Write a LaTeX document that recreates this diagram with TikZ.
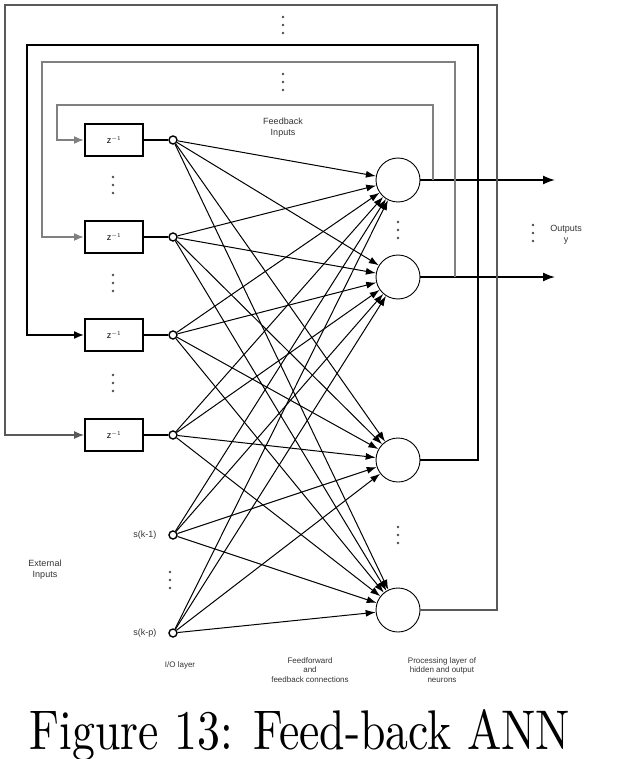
\documentclass[tikz,border=0pt]{standalone}
\usepackage{fontspec}
\newfontfamily\sans{Liberation Sans}
\usetikzlibrary{arrows.meta}
\begin{document}
\begin{tikzpicture}[x=1pt,y=-1pt,
  zbox/.style={draw,line width=1.8pt,minimum width=58pt,minimum height=32pt,inner sep=0pt,font=\sans\small},
  inp/.style={circle,draw,line width=1.4pt,minimum size=8pt,inner sep=0pt},
  neu/.style={circle,draw,line width=0.9pt,minimum size=44pt,inner sep=0pt},
  conn/.style={line width=1pt,-{Latex[length=10pt,width=7pt]}},
  fb/.style={line width=2.6pt,gray,-{Latex[length=10pt,width=8pt]}},
  lab/.style={font=\sans\small,align=center,text=black!80},
  dot/.style={circle,fill=black!70,minimum size=2.6pt,inner sep=0pt}]
\useasboundingbox (0,0) rectangle (632,759);
% z boxes
\foreach \i/\y in {1/140,2/237,3/335,4/435}{
  \node[zbox] (z\i) at (114,\y) {z$^{-1}$};
  \node[inp] (i\i) at (173,\y) {};
  \draw[line width=1.8pt] (z\i.east) -- (i\i);
}
\node[inp] (i5) at (173,535) {};
\node[inp] (i6) at (173,633) {};
% neurons
\node[neu] (n1) at (398,180) {};
\node[neu] (n2) at (398,277) {};
\node[neu] (n3) at (398,460) {};
\node[neu] (n4) at (398,610) {};
% connections
\foreach \a in {1,...,6}{\foreach \b in {1,...,4}{\draw[conn] (i\a) -- (n\b);}}
% outputs
\coordinate (o1) at (555,180);
\coordinate (o2) at (555,277);
\draw[line width=1.6pt,-{Latex[length=12pt,width=9pt]}] (n1.east) -- (o1);
\draw[line width=1.6pt,-{Latex[length=12pt,width=9pt]}] (n2.east) -- (o2);
% feedback loops
\draw[fb] (433,180) -- (433,105) -- (57,105) -- (57,140) -- (z1.west);
\draw[fb] (455,277) -- (455,62) -- (42,62) -- (42,237) -- (z2.west);
\draw[line width=1.8pt,-{Latex[length=10pt,width=8pt]}] (n3.east) -- (478,460) -- (478,45) -- (27,45) -- (27,335) -- (z3.west);
\draw[line width=1.3pt,gray!70!black,-{Latex[length=10pt,width=8pt]}] (n4.east) -- (497,610) -- (497,5) -- (5,5) -- (5,435) -- (z4.west);
% dots
\foreach \x/\y in {113/185,113/283,113/383,283/25,283/82,398/230,398/535,533/233,170/580}{
  \foreach \k in {-8,0,8}{\node[dot] at (\x,\y+\k) {};}
}
% labels
\node[lab] (fbi) at (283,128) {Feedback\\Inputs};
\node[lab] (out) at (566,235) {Outputs\\y};
\node[lab] (ext) at (45,570) {External\\Inputs};
\node[lab,anchor=east] (s1) at (160,535) {s(k-1)};
\node[lab,anchor=east] (s2) at (160,633) {s(k-p)};
\node[lab,font=\sans\footnotesize] (io) at (180,665) {I/O layer};
\node[lab,font=\sans\footnotesize] (ff) at (310,670) {Feedforward\\and\\feedback connections};
\node[lab,font=\sans\footnotesize] (pl) at (442,670) {Processing layer of\\hidden and output\\neurons};
\node[inner sep=0pt] (cap) at (300,735) {\resizebox{540pt}{40pt}{Figure 13: Feed-back ANN}};
\end{tikzpicture}
\end{document}
